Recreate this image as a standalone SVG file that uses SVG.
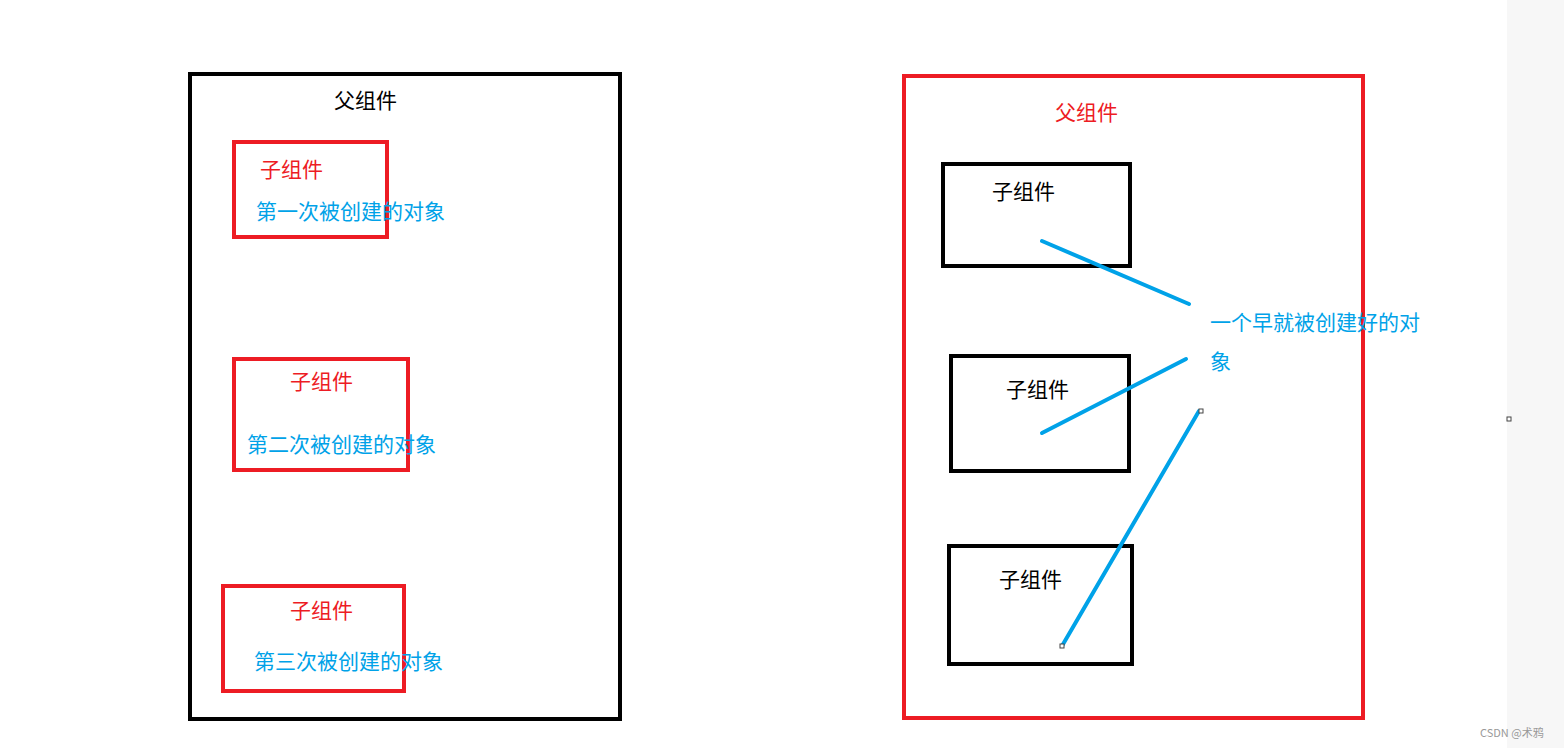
<svg xmlns="http://www.w3.org/2000/svg" width="1564" height="748" viewBox="0 0 1564 748">
<style>
text{font-family:"Noto Sans CJK SC","Liberation Sans",sans-serif;font-size:21px}
.k{fill:#000}.r{fill:#ed1c24}.b{fill:#00a2e8}
.bk{fill:none;stroke:#000;stroke-width:4}
.rd{fill:none;stroke:#ed1c24;stroke-width:4}
.ln{stroke:#00a2e8;stroke-width:4;stroke-linecap:round}
.h{fill:#fff;stroke:#444;stroke-width:1}
</style>
<rect width="1564" height="748" fill="#fff"/>
<rect x="1507" y="0" width="57" height="748" fill="#f7f7f7"/>
<g id="parent-left"><rect class="bk" x="190" y="74" width="430" height="645"/><text class="k" x="334" y="108">父组件</text></g>
<g id="child-l1"><rect class="rd" x="234" y="142" width="153" height="95"/><text class="r" x="260" y="177">子组件</text><text class="b" x="256" y="219">第一次被创建的对象</text></g>
<g id="child-l2"><rect class="rd" x="234" y="359" width="174" height="111"/><text class="r" x="290" y="389">子组件</text><text class="b" x="247" y="452">第二次被创建的对象</text></g>
<g id="child-l3"><rect class="rd" x="223" y="586" width="181" height="105"/><text class="r" x="290" y="618">子组件</text><text class="b" x="254" y="669">第三次被创建的对象</text></g>
<g id="parent-right"><rect class="rd" x="904" y="76" width="459" height="642"/><text class="r" x="1055" y="120">父组件</text></g>
<g id="child-r1"><rect class="bk" x="943" y="164" width="187" height="102"/><text class="k" x="992" y="199">子组件</text></g>
<g id="child-r2"><rect class="bk" x="951" y="356" width="178" height="115"/><text class="k" x="1006" y="397">子组件</text></g>
<g id="child-r3"><rect class="bk" x="949" y="546" width="183" height="118"/><text class="k" x="999" y="587">子组件</text></g>
<g id="connectors">
<line class="ln" x1="1042" y1="241" x2="1189" y2="304"/>
<line class="ln" x1="1042" y1="433" x2="1186" y2="359"/>
<line class="ln" x1="1062" y1="646" x2="1199" y2="411"/>
<rect class="h" x="1060" y="644" width="4" height="4"/>
<rect class="h" x="1199" y="409" width="4" height="4"/>
<rect class="h" x="1507" y="417" width="4" height="4"/>
</g>
<g id="label"><text class="b" x="1210" y="330">一个早就被创建好的对</text><text class="b" x="1210" y="369">象</text></g>
<text x="1480" y="737" style="font-size:11px;fill:#999">CSDN @术鸦</text>
</svg>
